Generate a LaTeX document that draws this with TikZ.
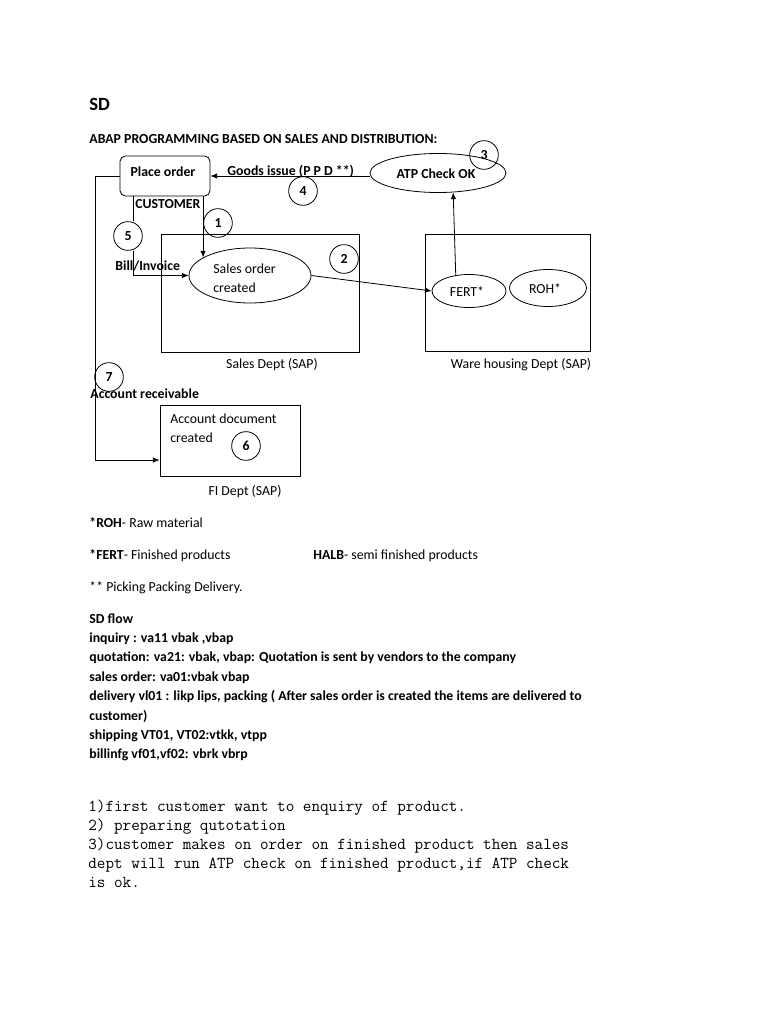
\documentclass[tikz,border=0pt]{standalone}
\usepackage{fontspec}
\setmainfont{Carlito}
\usetikzlibrary{shapes.geometric,arrows.meta}
\begin{document}
\begin{tikzpicture}[x=0.75pt,y=-0.75pt,line width=0.6pt,
  txt/.style={anchor=base west,inner sep=0pt,font=\fontsize{10.35}{12}\selectfont},
  btxt/.style={anchor=base west,inner sep=0pt,font=\fontsize{10.35}{12}\selectfont\bfseries},
  ctxt/.style={anchor=base,inner sep=0pt,font=\fontsize{10.35}{12}\selectfont},
  bctxt/.style={anchor=base,inner sep=0pt,font=\fontsize{10.35}{12}\selectfont\bfseries},
  num/.style={circle,draw,minimum size=21.5pt,inner sep=0pt,font=\fontsize{10.35}{12}\selectfont\bfseries},
  ell/.style={ellipse,draw,inner sep=0pt},
  box/.style={rectangle,draw,inner sep=0pt},
  arr/.style={-{Latex[length=5pt,width=4pt]}},
  mono/.style={anchor=base west,inner sep=0pt,font=\fontsize{12.5}{14}\ttfamily}]
\useasboundingbox[fill=white] (0,0) rectangle (768,1024);

% headings
\node[anchor=base west,inner sep=0pt,font=\fontsize{14}{16}\selectfont\bfseries] (sd) at (89,110) {SD};
\node[btxt] (abap) at (89,143) {ABAP PROGRAMMING BASED ON SALES AND DISTRIBUTION:};

% boxes and ellipses
\node[box,rounded corners=4pt,minimum width=67.5pt,minimum height=30pt] (po) at (165,176) {};
\node[ell,minimum width=102pt,minimum height=29.25pt] (atp) at (438,173) {};
\node[box,minimum width=148.5pt,minimum height=88.5pt] (sales) at (260,293) {};
\node[box,minimum width=123.75pt,minimum height=87.75pt] (ware) at (507.5,292.5) {};
\node[box,minimum width=105pt,minimum height=53.25pt] (fi) at (230,440.5) {};
\node[ell,minimum width=91.5pt,minimum height=41.25pt] (so) at (250,275.5) {};
\node[ell,minimum width=55.5pt,minimum height=24.75pt] (fert) at (469,291) {};
\node[ell,minimum width=57.75pt,minimum height=27.75pt] (roh) at (548,288) {};

% labels
\node[bctxt] (pol) at (163,176) {Place order};
\node[bctxt] (atpl) at (436,178) {ATP Check OK};
\node[ctxt] (fertl) at (467,296) {FERT*};
\node[ctxt] (rohl) at (545,293) {ROH*};
\node[btxt] (gi) at (227,175) {Goods issue (P P D **)};
\node[btxt] (cust) at (135,208) {CUSTOMER};
\node[btxt] (bill) at (115,270) {Bill/Invoice};
\node[txt] (so1) at (213,273) {Sales order};
\node[txt] (so2) at (213,292) {created};
\node[ctxt] (salesl) at (272,368) {Sales Dept (SAP)};
\node[ctxt] (warel) at (521,368) {Ware housing Dept (SAP)};
\node[btxt] (acr) at (90,398) {Account receivable};
\node[txt] (ad1) at (170,423) {Account document};
\node[txt] (ad2) at (170,442) {created};
\node[ctxt] (fil) at (245,495) {FI Dept (SAP)};

% numbered circles
\node[num] (c1) at (218,223) {1};
\node[num] (c2) at (344,259) {2};
\node[num] (c3) at (484,155) {3};
\node[num] (c4) at (303,191) {4};
\node[num] (c5) at (128,236) {5};
\node[num] (c6) at (246,446) {6};
\node[num] (c7) at (109,377) {7};

% helper coordinates
\coordinate (x133) at (133,0);
\coordinate (x95) at (95,460);

% connectors
\draw (po.south -| x133) -- (c5.north -| x133);
\draw[arr] (c5.south -| x133) |- (so.west);
\draw[arr] (po.south -| so.159) -- (so.159);
\draw[arr] (so.east) -- (fert.west);
\draw[arr] (fert.130) -- (atp.-52);
\draw[arr] (atp.west |- po.east) -- (po.east);
\draw[arr] (po.west) -| (x95) -- (x95 -| fi.west);

% legend
\node[txt] (l1) at (89,527) {\textbf{*ROH}- Raw material};
\node[txt] (l2) at (89,559) {\textbf{*FERT}- Finished products};
\node[txt] (l3) at (313,559) {\textbf{HALB}- semi finished products};
\node[txt] (l4) at (89,591) {** Picking Packing Delivery.};

% SD flow
\node[btxt] (f0) at (89,623) {SD flow};
\node[btxt] (f1) at (89,642.4) {inquiry : va11 vbak ,vbap};
\node[btxt] (f2) at (89,661.8) {quotation: va21: vbak, vbap: Quotation is sent by vendors to the company};
\node[btxt] (f3) at (89,681.2) {sales order: va01:vbak vbap};
\node[btxt] (f4) at (89,700.6) {delivery vl01 : likp lips, packing ( After sales order is created the items are delivered to};
\node[btxt] (f5) at (89,720) {customer)};
\node[btxt] (f6) at (89,739.4) {shipping VT01, VT02:vtkk, vtpp};
\node[btxt] (f7) at (89,758.8) {billinfg vf01,vf02: vbrk vbrp};

% mono notes
\node[mono] (m1) at (88,811) {1)first customer want to enquiry of product.};
\node[mono] (m2) at (88,830) {2) preparing qutotation};
\node[mono] (m3) at (88,849) {3)customer makes on order on finished product then sales};
\node[mono] (m4) at (88,868) {dept will run ATP check on finished product,if ATP check};
\node[mono] (m5) at (88,887) {is ok.};
\end{tikzpicture}
\end{document}
